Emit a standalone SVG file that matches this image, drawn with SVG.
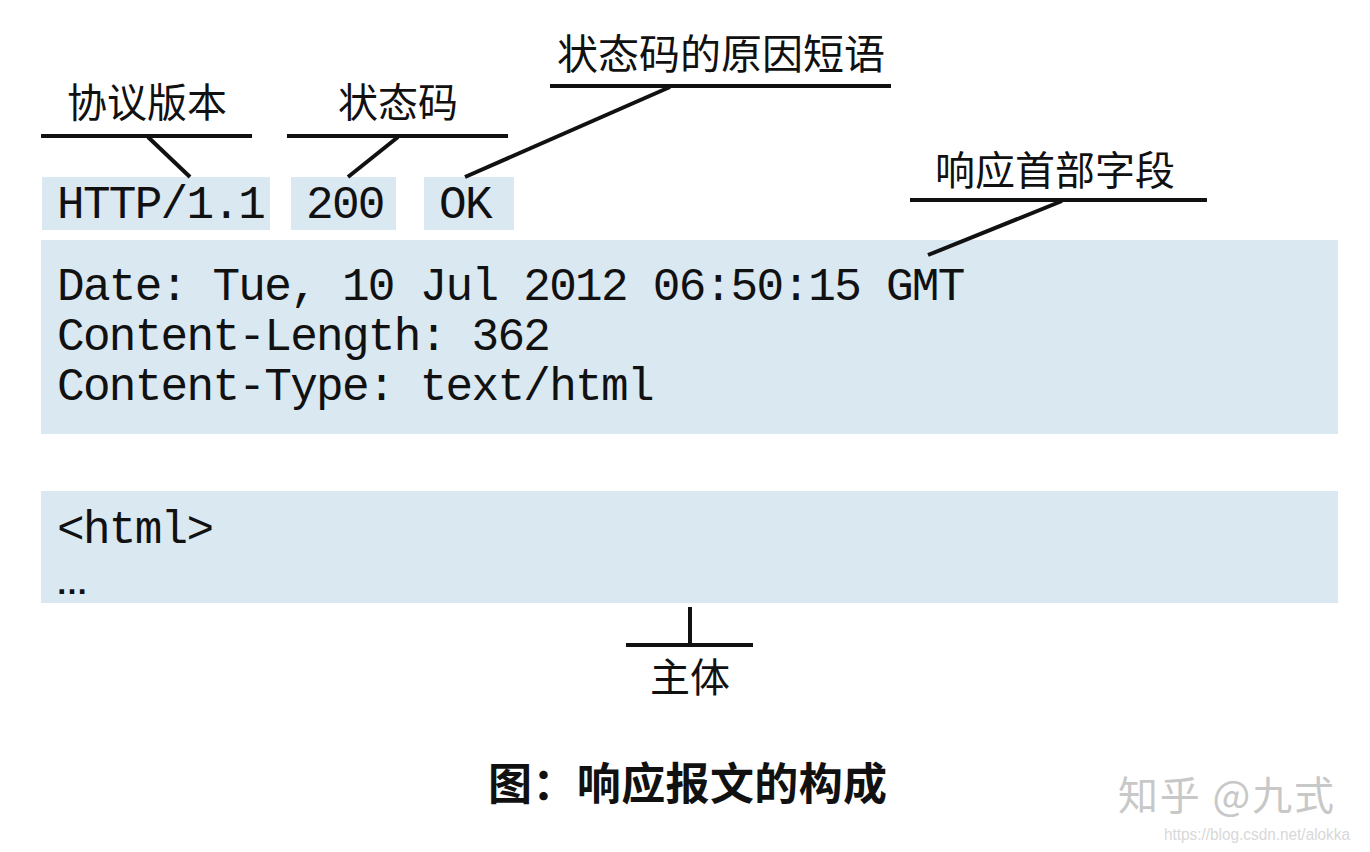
<svg xmlns="http://www.w3.org/2000/svg" width="1370" height="852" viewBox="0 0 1370 852">
<style>
.box{fill:#d9e8f1}
.mono{font-family:"Liberation Mono","DejaVu Sans Mono",monospace;font-size:46px;letter-spacing:-1.7px;fill:#111}
.lbl{font-family:"Noto Sans CJK SC","Noto Sans",sans-serif;font-size:40px;fill:#111}
.ln{stroke:#111;stroke-width:4;fill:none;stroke-linecap:butt}
.title{font-family:"Noto Sans CJK SC",sans-serif;font-size:44px;font-weight:bold;fill:#111}
.wm{font-family:"Noto Sans CJK SC",sans-serif;fill:#c8c8c8}
</style>
<rect width="1370" height="852" fill="#fff"/>
<g id="version">
<rect class="box" x="42" y="177" width="228" height="53"/>
<text class="mono" x="57" y="218">HTTP/1.1</text>
</g>
<g id="status">
<rect class="box" x="291" y="177" width="105" height="53"/>
<text class="mono" x="306" y="218">200</text>
</g>
<g id="reason">
<rect class="box" x="424" y="177" width="90" height="53"/>
<text class="mono" x="439" y="218">OK</text>
</g>
<g id="headers">
<rect class="box" x="41" y="240" width="1297" height="194"/>
<text class="mono" x="57" y="300">Date: Tue, 10 Jul 2012 06:50:15 GMT</text>
<text class="mono" x="57" y="350">Content-Length: 362</text>
<text class="mono" x="57" y="400">Content-Type: text/html</text>
</g>
<g id="body">
<rect class="box" x="41" y="491" width="1297" height="112"/>
<text class="mono" x="57" y="543">&lt;html&gt;</text>
<text x="56" y="594" style="font-family:'Liberation Sans',sans-serif;font-size:32px;font-weight:bold;fill:#111">…</text>
</g>
<g id="label-version">
<text class="lbl" x="67" y="117">协议版本</text>
</g>
<g id="label-status">
<text class="lbl" x="338" y="117">状态码</text>
</g>
<g id="label-reason">
<text class="lbl" x="557" y="69" style="font-size:41px">状态码的原因短语</text>
</g>
<g id="label-headers">
<text class="lbl" x="935" y="185">响应首部字段</text>
</g>
<g id="label-body">
<text class="lbl" x="650" y="692">主体</text>
</g>
<g id="connectors">
<line class="ln" x1="41" y1="136" x2="252" y2="136"/>
<line class="ln" x1="148" y1="137" x2="190" y2="177"/>
<line class="ln" x1="287" y1="136" x2="508" y2="136"/>
<line class="ln" x1="398" y1="137" x2="348" y2="177"/>
<line class="ln" x1="550" y1="86" x2="891" y2="86"/>
<line class="ln" x1="670" y1="87" x2="465" y2="177"/>
<line class="ln" x1="910" y1="200" x2="1207" y2="200"/>
<line class="ln" x1="1062" y1="201" x2="928" y2="255"/>
<line class="ln" x1="690" y1="607" x2="690" y2="645"/>
<line class="ln" x1="626" y1="645" x2="753" y2="645"/>
</g>
<g id="caption">
<text class="title" x="488" y="800" textLength="399">图：响应报文的构成</text>
</g>
<g id="watermark">
<text class="wm" x="1118" y="810" textLength="216" style="font-size:40px">知乎 @九式</text>
<text class="wm" x="1164" y="840" textLength="186" lengthAdjust="spacingAndGlyphs" style="font-size:16px;font-family:'Liberation Sans',sans-serif;fill:#d8d8d8">https://blog.csdn.net/alokka</text>
</g>
</svg>
